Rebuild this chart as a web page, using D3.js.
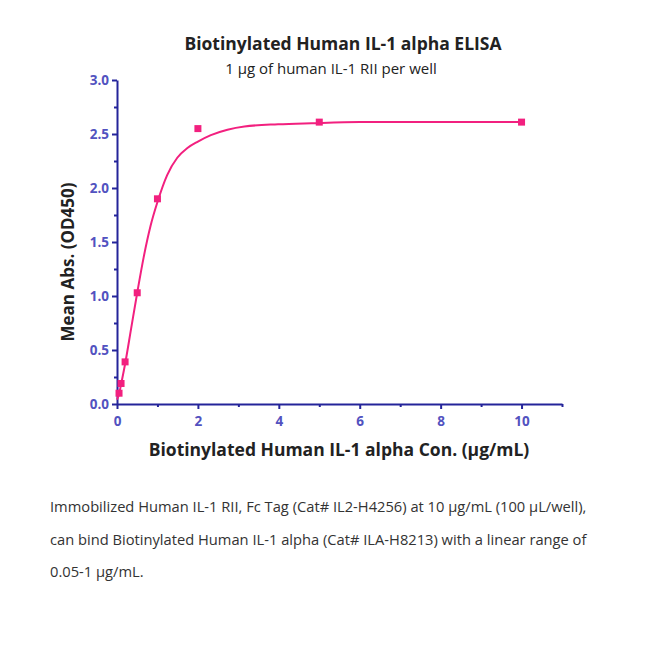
<!DOCTYPE html>
<html>
<head>
	<meta charset="utf-8">
	<script src="https://cdnjs.cloudflare.com/ajax/libs/d3/7.8.5/d3.min.js"></script>
	<style>
	body { margin: 0; background: #fff; }
	.axis path, .axis line { stroke: #24249a; stroke-width: 2px; }
	.axis text { fill: #5252c0; font: bold 13.5px "Open Sans", sans-serif; }
	.lbl { font-family: "Open Sans", sans-serif; font-weight: bold; fill: #222; }
	.caption { font: 14.7px "Open Sans", sans-serif; fill: #333; }
	</style>
</head>
<body>
<svg width="650" height="650"></svg>
<script>
  // measured points
  var conc = [0.05, 0.1, 0.2, 0.5, 1, 2, 5, 10];
  var od = [0.10, 0.19, 0.39, 1.03, 1.90, 2.55, 2.61, 2.61];

  // fitted curve
  var fitX = [0, 0.05, 0.1, 0.2, 0.35, 0.5, 0.66, 0.83, 1.0, 1.24, 1.49, 1.74, 2.0, 2.32, 2.73, 3.15, 3.98, 4.81, 6, 8, 10];
  var fitY = [0.04, 0.09, 0.18, 0.37, 0.70, 1.03, 1.36, 1.65, 1.87, 2.12, 2.28, 2.37, 2.43, 2.49, 2.54, 2.57, 2.59, 2.60, 2.61, 2.61, 2.61];

  var xTicks = [0, 2, 4, 6, 8, 10];
  var yTicks = [0, 0.5, 1.0, 1.5, 2.0, 2.5, 3.0];

  var svg = d3.select("svg");
  var x = d3.scaleLinear().domain([0, 11]).range([117, 562]);
  var y = d3.scaleLinear().domain([0, 3]).range([404, 80]);

  // minor ticks
  svg.append("g").attr("class", "axis")
      .attr("transform", "translate(0,404)")
      .call(d3.axisBottom(x).tickValues(d3.range(1, 12, 2)).tickSize(3).tickFormat(""))
      .select(".domain").remove();
  svg.append("g").attr("class", "axis")
      .attr("transform", "translate(117,0)")
      .call(d3.axisLeft(y).tickValues(d3.range(0.25, 3, 0.5)).tickSize(3).tickFormat(""))
      .select(".domain").remove();

  svg.append("g").attr("class", "axis")
      .attr("transform", "translate(0,404)")
      .call(d3.axisBottom(x).tickValues(xTicks).tickSize(5).tickSizeOuter(0).tickPadding(7));
  svg.append("g").attr("class", "axis")
      .attr("transform", "translate(117,0)")
      .call(d3.axisLeft(y).tickValues(yTicks).tickSize(5).tickSizeOuter(0).tickPadding(3)
        .tickFormat(d3.format(".1f")));

  var line = d3.line()
      .curve(d3.curveMonotoneX)
      .x(function(d, i) { return x(fitX[i]); })
      .y(function(d) { return y(d); });

  svg.append("path")
      .attr("d", line(fitY))
      .attr("fill", "none")
      .attr("stroke", "#f2207f")
      .attr("stroke-width", 2);

  svg.selectAll(".pt")
      .data(conc)
      .enter().append("rect")
      .attr("class", "pt")
      .attr("x", function(d) { return x(d) - 3.5; })
      .attr("y", function(d, i) { return y(od[i]) - 3.5; })
      .attr("width", 7)
      .attr("height", 7)
      .attr("fill", "#f2207f");

  svg.append("text").attr("class", "lbl")
      .attr("x", 343).attr("y", 50)
      .attr("text-anchor", "middle").style("font-size", "17.5px")
      .text("Biotinylated Human IL-1 alpha ELISA");
  svg.append("text")
      .attr("x", 331).attr("y", 74)
      .attr("text-anchor", "middle")
      .style("font", "15px 'Open Sans', sans-serif").style("fill", "#222")
      .text("1 μg of human IL-1 RII per well");

  svg.append("text").attr("class", "lbl")
      .attr("transform", "translate(74,262) rotate(-90)")
      .attr("text-anchor", "middle").style("font-size", "17px")
      .text("Mean Abs. (OD450)");
  svg.append("text").attr("class", "lbl")
      .attr("x", 339).attr("y", 456)
      .attr("text-anchor", "middle").style("font-size", "17.5px")
      .text("Biotinylated Human IL-1 alpha Con. (μg/mL)");

  var caption = [
    "Immobilized Human IL-1 RII, Fc Tag (Cat# IL2-H4256) at 10 μg/mL (100 μL/well),",
    "can bind Biotinylated Human IL-1 alpha (Cat# ILA-H8213) with a linear range of",
    "0.05-1 μg/mL."
  ];
  svg.selectAll(".caption")
      .data(caption)
      .enter().append("text")
      .attr("class", "caption")
      .attr("x", 50)
      .attr("y", function(d, i) { return 512 + i * 32.5; })
      .text(function(d) { return d; });
</script>
</body>
</html>
